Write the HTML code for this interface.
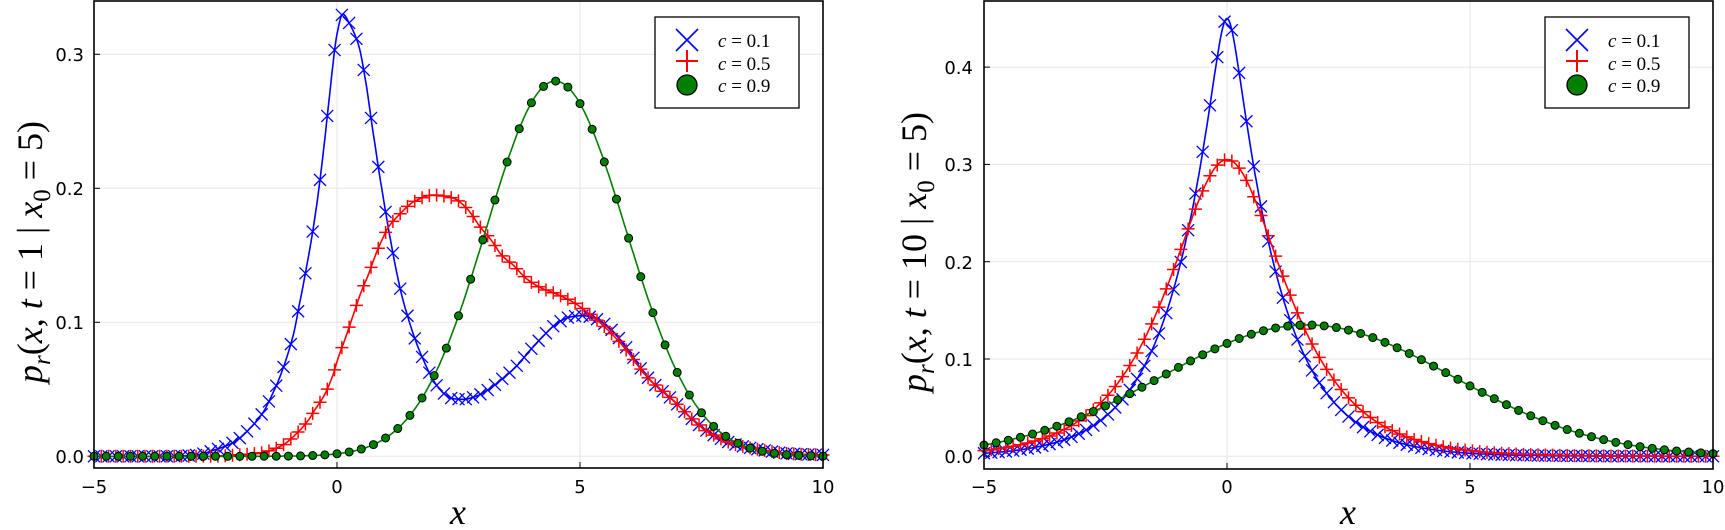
<!DOCTYPE html>
<html><head><meta charset="utf-8"><style>
html,body{margin:0;padding:0;background:#fff;}
svg{display:block;}
.tk{font-family:"DejaVu Sans","Liberation Sans",sans-serif;font-size:18px;fill:#000;}
.lb{font-family:"Liberation Serif","DejaVu Serif",serif;font-style:italic;font-size:36px;fill:#000;}
.lg{font-family:"Liberation Serif","DejaVu Serif",serif;font-size:19px;fill:#000;}
</style></head><body>
<svg id="s" width="1725" height="530" xmlns="http://www.w3.org/2000/svg">
<g id="g"></g>
<text class="tk" x="94" y="493" text-anchor="middle">−5</text>
<text class="tk" x="337" y="493" text-anchor="middle">0</text>
<text class="tk" x="580" y="493" text-anchor="middle">5</text>
<text class="tk" x="823" y="493" text-anchor="middle">10</text>
<text class="tk" x="84" y="463" text-anchor="end">0.0</text>
<text class="tk" x="84" y="329" text-anchor="end">0.1</text>
<text class="tk" x="84" y="195" text-anchor="end">0.2</text>
<text class="tk" x="84" y="61" text-anchor="end">0.3</text>
<text class="lb" x="458" y="524" text-anchor="middle">x</text>
<text class="lb" transform="translate(42,252) rotate(-90)" text-anchor="middle">p<tspan font-size="25" dy="8">r</tspan><tspan dy="-8" font-style="normal">(</tspan>x<tspan font-style="normal">, </tspan>t <tspan font-style="normal">= 1 | </tspan>x<tspan font-size="25" dy="8" font-style="normal">0</tspan><tspan dy="-8" font-style="normal"> = 5)</tspan></text>
<text class="tk" x="984" y="493" text-anchor="middle">−5</text>
<text class="tk" x="1227" y="493" text-anchor="middle">0</text>
<text class="tk" x="1470" y="493" text-anchor="middle">5</text>
<text class="tk" x="1713" y="493" text-anchor="middle">10</text>
<text class="tk" x="973" y="463" text-anchor="end">0.0</text>
<text class="tk" x="973" y="366" text-anchor="end">0.1</text>
<text class="tk" x="973" y="269" text-anchor="end">0.2</text>
<text class="tk" x="973" y="171" text-anchor="end">0.3</text>
<text class="tk" x="973" y="74" text-anchor="end">0.4</text>
<text class="lb" x="1348" y="524" text-anchor="middle">x</text>
<text class="lb" transform="translate(926,252) rotate(-90)" text-anchor="middle">p<tspan font-size="25" dy="8">r</tspan><tspan dy="-8" font-style="normal">(</tspan>x<tspan font-style="normal">, </tspan>t <tspan font-style="normal">= 10 | </tspan>x<tspan font-size="25" dy="8" font-style="normal">0</tspan><tspan dy="-8" font-style="normal"> = 5)</tspan></text>
<text class="lg" x="718" y="47"><tspan font-style="italic">c</tspan> = 0.1</text>
<text class="lg" x="718" y="70"><tspan font-style="italic">c</tspan> = 0.5</text>
<text class="lg" x="718" y="92"><tspan font-style="italic">c</tspan> = 0.9</text>
<text class="lg" x="1608" y="47"><tspan font-style="italic">c</tspan> = 0.1</text>
<text class="lg" x="1608" y="70"><tspan font-style="italic">c</tspan> = 0.5</text>
<text class="lg" x="1608" y="92"><tspan font-style="italic">c</tspan> = 0.9</text>
</svg>
<script>
function pchip(pts){
 pts.sort(function(a,b){return a[0]-b[0];});
 var n=pts.length,xs=pts.map(function(p){return p[0];}),ys=pts.map(function(p){return p[1];});
 var d=[],m=[];for(var i=0;i<n-1;i++)d.push((ys[i+1]-ys[i])/(xs[i+1]-xs[i]));
 m[0]=d[0];m[n-1]=d[n-2];
 for(var i=1;i<n-1;i++){if(d[i-1]*d[i]<=0)m[i]=0;else{var h0=xs[i]-xs[i-1],h1=xs[i+1]-xs[i];var w1=2*h1+h0,w2=h1+2*h0;m[i]=(w1+w2)/(w1/d[i-1]+w2/d[i]);}}
 return function(x){
  if(x<=xs[0])return ys[0];if(x>=xs[n-1])return ys[n-1];
  var i=0;while(xs[i+1]<x)i++;
  var h=xs[i+1]-xs[i],t=(x-xs[i])/h,t2=t*t,t3=t2*t;
  return (2*t3-3*t2+1)*ys[i]+(t3-2*t2+t)*h*m[i]+(-2*t3+3*t2)*ys[i+1]+(t3-t2)*h*m[i+1];};
}
var tail=[[6,0.076],[6.44,0.057],[6.91,0.042],[7.33,0.027],[7.74,0.016],[8.23,0.0085],[8.78,0.0045],[9.3,0.002],[10,0.001]];
var blueL=pchip([[-5,0],[-3.5,0],[-2.9,0.001],[-2.5,0.005],[-2.1,0.011],[-1.8,0.0205],[-1.5,0.034],[-1.36,0.044],[-1.2,0.057],[-1.05,0.072],[-0.89,0.092],[-0.77,0.114],[-0.62,0.1425],[-0.46,0.177],[-0.31,0.218],[-0.16,0.267],[0,0.315],[0.12,0.33],[0.27,0.322],[0.45,0.306],[0.58,0.282],[0.73,0.245],[0.88,0.209],[1.03,0.176],[1.18,0.146],[1.32,0.122],[1.47,0.1025],[1.62,0.086],[1.77,0.0725],[1.92,0.061],[2.07,0.052],[2.23,0.046],[2.4,0.043],[2.6,0.0425],[2.8,0.044],[3.08,0.049],[3.39,0.0575],[3.7,0.0675],[3.97,0.079],[4.25,0.09],[4.52,0.099],[4.8,0.104],[5.05,0.105],[5.3,0.103],[5.6,0.096],[5.85,0.086]].concat(tail.slice(1)));
var redL=pchip([[-5,0],[-2.6,0],[-2.05,0.001],[-1.58,0.0025],[-1.16,0.0075],[-0.75,0.02],[-0.58,0.0275],[-0.45,0.035],[-0.27,0.045],[-0.1,0.059],[0.03,0.074],[0.18,0.089],[0.33,0.105],[0.48,0.121],[0.65,0.136],[0.79,0.15],[0.92,0.161],[1.06,0.171],[1.3,0.181],[1.58,0.19],[1.99,0.195],[2.4,0.1925],[2.67,0.185],[2.95,0.171],[3.18,0.161],[3.39,0.15],[3.63,0.1425],[3.9,0.1325],[4.18,0.126],[4.52,0.121],[4.86,0.115],[5.2,0.106],[5.48,0.0975],[5.82,0.085]].concat(tail.slice(1)));
function greenL(x){var s=x<4.49?1.42:1.45;return 0.28*Math.exp(-(x-4.49)*(x-4.49)/(2*s*s));}
var g=document.getElementById('g');var h='';
var P=[
 {L:94,R:823,T:1,B:468,y0:456.3,sy:1340,fs:[blueL,redL,greenL],st:[0.15,0.15,0.25],yt:[0,0.1,0.2,0.3],leg:[655,17]},
 {L:984,R:1713,T:1,B:469,y0:456.3,sy:973,fs:[
  function(x){return 0.541*Math.exp(-Math.sqrt(x*x+0.032)/0.97);},
  function(x){return 0.829*Math.exp(-Math.sqrt(x*x+1.061)/1.03);},
  function(x){return 0.135*Math.exp(-(x-1.65)*(x-1.65)/(2*3.0*3.0));}],st:[0.15,0.15,0.25],yt:[0,0.1,0.2,0.3,0.4],leg:[1545,17]}];
var cols=['#0000ff','#ff0000','#008000'];
function mk(k,X,Y){
 if(k==0)return '<path d="M'+(X-6)+','+(Y-6)+'L'+(X+6)+','+(Y+6)+'M'+(X-6)+','+(Y+6)+'L'+(X+6)+','+(Y-6)+'" stroke="#00f" stroke-width="1.3"/>';
 if(k==1)return '<path d="M'+(X-6.5)+','+Y+'L'+(X+6.5)+','+Y+'M'+X+','+(Y-6.5)+'L'+X+','+(Y+6.5)+'" stroke="#f00" stroke-width="1.5"/>';
 return '<circle cx="'+X+'" cy="'+Y+'" r="4" fill="#008000" stroke="#000" stroke-width="1"/>';}
P.forEach(function(p){
 var sx=(p.R-p.L)/15;function px(x){return p.L+(x+5)*sx;}function py(y){return p.y0-y*p.sy;}
 h+='<rect x="'+p.L+'" y="'+p.T+'" width="'+(p.R-p.L)+'" height="'+(p.B-p.T)+'" fill="#fff"/>';
 [-5,0,5,10].forEach(function(v){h+='<line x1="'+px(v)+'" x2="'+px(v)+'" y1="'+p.T+'" y2="'+p.B+'" stroke="#e6e6e6" stroke-width="1"/>';h+='<line x1="'+px(v)+'" x2="'+px(v)+'" y1="'+p.B+'" y2="'+(p.B-6)+'" stroke="#000"/>';});
 p.yt.forEach(function(v){h+='<line y1="'+py(v)+'" y2="'+py(v)+'" x1="'+p.L+'" x2="'+p.R+'" stroke="#e6e6e6" stroke-width="1"/>';h+='<line y1="'+py(v)+'" y2="'+py(v)+'" x1="'+p.L+'" x2="'+(p.L+6)+'" stroke="#000"/>';});
 p.fs.forEach(function(f,k){
  var d='';for(var i=0;i<=900;i++){var x=-5+15*i/900;d+=(i?'L':'M')+px(x).toFixed(1)+','+py(f(x)).toFixed(1);}
  h+='<path d="'+d+'" fill="none" stroke="'+cols[k]+'" stroke-width="1.6"/>';
  var n=Math.round(15/p.st[k]);for(var i=0;i<=n;i++){var x=-5+i*p.st[k];h+=mk(k,px(x),py(f(x)));}
 });
 h+='<rect x="'+p.L+'" y="'+p.T+'" width="'+(p.R-p.L)+'" height="'+(p.B-p.T)+'" fill="none" stroke="#000" stroke-width="1.6"/>';
 var lx=p.leg[0],ly=p.leg[1];
 h+='<rect x="'+lx+'" y="'+ly+'" width="144" height="91" fill="#fff" stroke="#000" stroke-width="1.3"/>';
 var mx=lx+32;
 h+='<path d="M'+(mx-11)+',29L'+(mx+11)+',51M'+(mx-11)+',51L'+(mx+11)+',29" stroke="#00f" stroke-width="1.6"/>';
 h+='<path d="M'+(mx-11)+',61L'+(mx+11)+',61M'+mx+',50L'+mx+',72" stroke="#f00" stroke-width="2"/>';
 h+='<circle cx="'+mx+'" cy="85" r="10" fill="#008000" stroke="#000" stroke-width="1.3"/>';
});
g.innerHTML=h;
</script>
</body></html>
